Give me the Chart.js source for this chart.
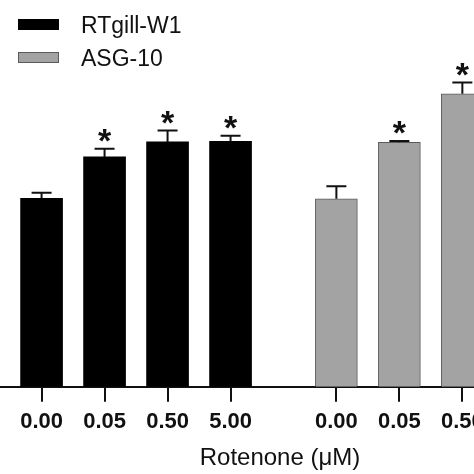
<!DOCTYPE html>
<html>
<head>
<meta charset="utf-8">
<script src="https://cdn.jsdelivr.net/npm/chart.js@4.4.0/dist/chart.umd.min.js"></script>
<style>
  html, body { margin: 0; padding: 0; background: #fff; overflow: hidden; }
  #wrap { width: 474px; height: 474px; overflow: hidden; position: relative; }
  canvas { position: absolute; left: 0; top: 0; }
</style>
</head>
<body>
<div id="wrap"><canvas id="chart" width="560" height="474"></canvas></div>
<script>
// data (percent of control, upward SEM)
const doses = ['0.00', '0.05', '0.50', '5.00'];
const rtgillValues = [100, 122, 130, 130.3];
const rtgillErrors = [3, 4.4, 6, 3];
const rtgillSig = [false, true, true, true];
const asgDoses = ['0.00', '0.05', '0.50'];
const asgValues = [99.8, 129.8, 155.5];
const asgErrors = [6.7, 0.7, 6];
const asgSig = [false, true, true];

// layout: second group starts after a wider gap
const groupGap = 1.68;
const asgStart = doses.length - 1 + groupGap;

const FONT = 'Liberation Sans, Arial, sans-serif';

const tickPos = [];
const tickLabels = [];
doses.forEach((d, i) => { tickPos.push(i); tickLabels.push(d); });
asgDoses.forEach((d, i) => { tickPos.push(asgStart + i); tickLabels.push(d); });

const rtData = rtgillValues.map((v, i) => ({ x: i, y: v }));
const asgData = asgValues.map((v, i) => ({ x: asgStart + i, y: v }));

// error bars + asterisks
const errorPlugin = {
  id: 'errorBars',
  afterDatasetsDraw(chart) {
    const ctx = chart.ctx;
    const ys = chart.scales.y;
    const sets = [[rtgillErrors, rtgillSig], [asgErrors, asgSig]];
    chart.data.datasets.forEach((ds, di) => {
      const meta = chart.getDatasetMeta(di);
      const errs = sets[di][0], sig = sets[di][1];
      meta.data.forEach((bar, i) => {
        const x = bar.x;
        const top = bar.y;
        const capY = ys.getPixelForValue(ds.data[i].y + errs[i]);
        ctx.save();
        ctx.strokeStyle = '#111';
        ctx.lineWidth = 2;
        ctx.beginPath();
        ctx.moveTo(x, top);
        ctx.lineTo(x, capY);
        ctx.moveTo(x - 10, capY);
        ctx.lineTo(x + 10, capY);
        ctx.stroke();
        if (sig[i]) {
          ctx.fillStyle = '#111';
          ctx.font = 'bold 34px ' + FONT;
          ctx.textAlign = 'center';
          ctx.textBaseline = 'alphabetic';
          ctx.fillText('*', x, capY + 3);
        }
        ctx.restore();
      });
    });
  }
};

// legend drawn inside the plot, stacked
const legendPlugin = {
  id: 'innerLegend',
  afterDraw(chart) {
    const ctx = chart.ctx;
    chart.data.datasets.forEach((ds, i) => {
      const y = 19 + i * 33;
      ctx.save();
      ctx.fillStyle = ds.backgroundColor;
      ctx.fillRect(18, y, 41, 11);
      ctx.strokeStyle = ds.borderColor;
      ctx.lineWidth = 1;
      ctx.strokeRect(18.5, y + 0.5, 40, 10);
      ctx.fillStyle = '#111';
      ctx.font = '23px ' + FONT;
      ctx.textBaseline = 'alphabetic';
      ctx.fillText(ds.label, 81, y + 14);
      ctx.restore();
    });
  }
};

new Chart(document.getElementById('chart'), {
  type: 'bar',
  data: {
    datasets: [
      {
        label: 'RTgill-W1',
        data: rtData,
        backgroundColor: '#000000',
        borderColor: '#000000',
        borderWidth: 0
      },
      {
        label: 'ASG-10',
        data: asgData,
        backgroundColor: '#a3a3a3',
        borderColor: '#5a5a5a',
        borderWidth: 1
      }
    ]
  },
  options: {
    responsive: false,
    animation: false,
    devicePixelRatio: 1,
    layout: { padding: { top: 10, left: 0, right: 0, bottom: 0 } },
    datasets: { bar: { barThickness: 42, grouped: false } },
    plugins: {
      legend: { display: false },
      tooltip: { enabled: false }
    },
    scales: {
      x: {
        type: 'linear',
        offset: false,
        min: -0.66,
        max: 8.23,
        afterBuildTicks(scale) {
          scale.ticks = tickPos.map(v => ({ value: v }));
        },
        ticks: {
          color: '#111',
          padding: 7,
          maxRotation: 0,
          autoSkip: false,
          font: { family: FONT, size: 22, weight: 'bold' },
          callback(value) {
            const k = tickPos.indexOf(value);
            return k >= 0 ? tickLabels[k] : '';
          }
        },
        grid: { offset: false, drawOnChartArea: false, tickLength: 15, color: '#111', lineWidth: 2 },
        border: { color: '#111', width: 2 },
        title: {
          display: true,
          text: 'Rotenone (μM)',
          color: '#111',
          font: { family: FONT, size: 24 },
          padding: { top: 2, bottom: 1 }
        }
      },
      y: {
        display: false,
        min: 0,
        max: 200
      }
    }
  },
  plugins: [errorPlugin, legendPlugin]
});
</script>
</body>
</html>
